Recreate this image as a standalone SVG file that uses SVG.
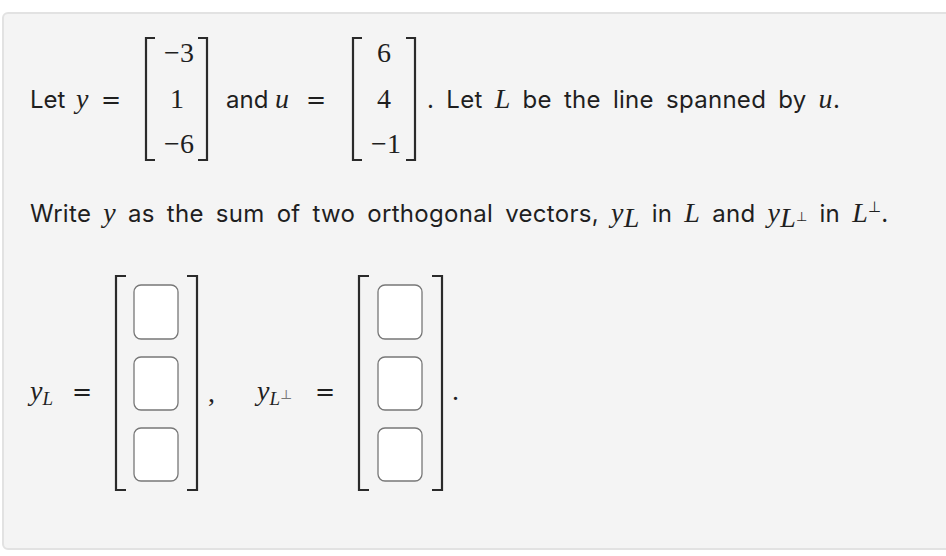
<svg xmlns="http://www.w3.org/2000/svg" width="946" height="556" viewBox="0 0 946 556">
<style>
.t{font-family:"Inter","Liberation Sans",sans-serif;font-size:24px;fill:#1f1f1f}
.w{word-spacing:5px;letter-spacing:0.3px}
.m{font-family:"Liberation Serif","DejaVu Serif",serif;font-size:28px;fill:#1f1f1f}
.eq{font-family:"DejaVu Sans",sans-serif;font-size:24px;fill:#1f1f1f}
.i{font-style:italic}
.b{fill:none;stroke:#2a2a2a;stroke-width:2.2}
.box{fill:#fff;stroke:#777;stroke-width:1.3}
</style>
<rect x="3" y="13" width="950" height="536" rx="5" fill="#f4f4f4" stroke="#e2e2e2" stroke-width="2"/>
<text x="30" y="108" class="t">Let</text>
<text x="76" y="108" class="m i">y</text>
<text x="101" y="108" class="eq">=</text>
<path class="b" d="M155,38 H146 V160 H155 M198,38 H207 V160 H198"/>
<text x="179" y="62" class="m" text-anchor="middle">−3</text>
<text x="177" y="108" class="m" text-anchor="middle">1</text>
<text x="179" y="153" class="m" text-anchor="middle">−6</text>
<text x="226" y="108" class="t">and</text>
<text x="275" y="108" class="m i">u</text>
<text x="306" y="108" class="eq">=</text>
<path class="b" d="M362,38 H353 V160 H362 M406,38 H415 V160 H406"/>
<text x="384" y="62" class="m" text-anchor="middle">6</text>
<text x="384" y="108" class="m" text-anchor="middle">4</text>
<text x="386" y="153" class="m" text-anchor="middle">−1</text>
<text x="427" y="108" class="t w">. Let <tspan class="m i">L</tspan> be the line spanned by <tspan class="m i">u</tspan>.</text>
<text x="30" y="222" class="t w">Write <tspan class="m i">y</tspan> as the sum of two orthogonal vectors, <tspan class="m i">y</tspan><tspan class="m i" font-size="19" dy="5">L</tspan><tspan dy="-5"> in </tspan><tspan class="m i">L</tspan> and <tspan class="m i">y</tspan><tspan class="m i" font-size="19" dy="5">L</tspan><tspan font-size="13" dy="-6">⊥</tspan><tspan dy="1"> in </tspan><tspan class="m i">L</tspan><tspan font-size="15" dy="-10">⊥</tspan><tspan dy="10">.</tspan></text>
<text x="30" y="400" class="m i">y<tspan font-size="19" dy="5">L</tspan></text>
<text x="72" y="400" class="eq">=</text>
<path class="b" d="M126,276 H116 V490 H126 M187,276 H197 V490 H187"/>
<rect class="box" x="134" y="285" width="44" height="54" rx="7"/>
<rect class="box" x="134" y="357" width="44" height="53" rx="7"/>
<rect class="box" x="134" y="428" width="44" height="53" rx="7"/>
<text x="208" y="402" class="m">,</text>
<text x="257" y="400" class="m i">y<tspan font-size="19" dy="5">L</tspan><tspan font-size="13" dy="-6" font-style="normal" fill="#777">⊥</tspan></text>
<text x="315" y="400" class="eq">=</text>
<path class="b" d="M369,276 H359 V490 H369 M432,276 H442 V490 H432"/>
<rect class="box" x="378" y="285" width="44" height="54" rx="7"/>
<rect class="box" x="378" y="357" width="44" height="53" rx="7"/>
<rect class="box" x="378" y="428" width="44" height="53" rx="7"/>
<text x="452" y="400" class="m">.</text>
</svg>
